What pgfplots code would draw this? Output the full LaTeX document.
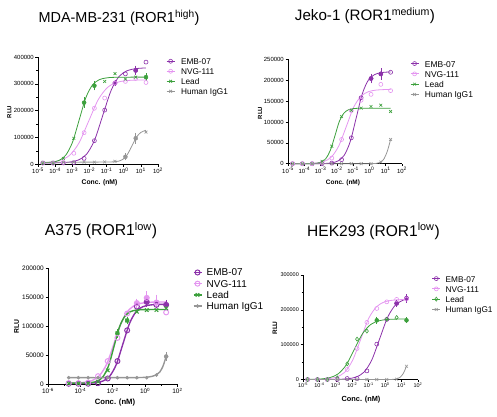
\documentclass[border=0pt]{standalone}
\usepackage{pgfplots}
\pgfplotsset{compat=1.18}
\usepackage{fontspec}
\setmainfont{Liberation Sans}
\definecolor{cEMB}{RGB}{140,50,170}
\definecolor{cNVG}{RGB}{228,150,240}
\definecolor{cLead}{RGB}{60,160,60}
\definecolor{cIgG}{RGB}{150,150,150}
\pgfplotsset{
 panel/.style={
  scale only axis, axis lines*=left, axis line style={-, line width=0.8bp},
  tick align=outside, major tick length=2.5bp, minor tick length=1.5bp,
  tick style={line width=0.6bp, black},
  enlargelimits=false, clip=false, ymin=0, scaled y ticks=false, scaled x ticks=false,
  legend cell align=left,
  legend image code/.code={\draw[mark repeat=2,mark phase=2,##1,sharp plot] plot coordinates {(0bp,0bp)(4bp,0bp)(8bp,0bp)};},
 },
 pleg/.style n args={5}{legend style={draw=none, fill=none, at={(#1,#2)}, anchor=north west, inner sep=0pt, row sep=0pt, column sep=#3,
   font=\fontsize{#5}{#5}\selectfont, nodes={inner sep=0pt, minimum height=#4, anchor=west, text height=0.7em, text depth=0pt}}},
 tickfont/.style={xticklabel style={font=\fontsize{#1}{#1}\selectfont, inner sep=1bp}, yticklabel style={font=\fontsize{#1}{#1}\selectfont, inner sep=1.5bp}},
 eb/.style={only marks, mark=none, forget plot, error bars/.cd, y dir=both, y explicit, error bar style={line width=#1}, error mark options={mark size=1.5bp, line width=#1}},
}
\begin{document}
\begin{tikzpicture}
\useasboundingbox (0,0) rectangle (497bp,-417bp);
% ---------------- Panel 1 ----------------
\begin{axis}[panel, tickfont=6, at={(38bp,-164.3bp)}, anchor=south west, width=120bp, height=107.3bp,
  xmin=-5, xmax=2, ymax=400000,
  xtick={-5,-4,-3,-2,-1,0,1,2},
  xticklabels={10\textsuperscript{-5},10\textsuperscript{-4},10\textsuperscript{-3},10\textsuperscript{-2},10\textsuperscript{-1},10\textsuperscript{0},10\textsuperscript{1},10\textsuperscript{2}},
  ytick={0,100000,200000,300000,400000}, yticklabels={0,100000,200000,300000,400000},
  minor ytick={50000,150000,250000,350000},
  pleg={1.067}{1.009}{6bp}{10bp}{8.3}]
\addplot[cEMB, line width=0.8bp, smooth, no marks, forget plot] coordinates {(-4.72,5000)(-3.60,6100)(-3.13,8500)(-2.65,15900)(-2.17,37300)(-1.70,90300)(-1.22,182500)(-0.74,274700)(-0.27,327700)(0.21,349100)(0.69,356500)(1.16,358900)(1.30,359200)};
\addplot[cNVG, line width=0.8bp, smooth, no marks, forget plot] coordinates {(-4.72,6200)(-4.27,8100)(-3.72,14500)(-3.16,33200)(-2.61,79500)(-2.05,160000)(-1.49,240500)(-0.94,286800)(-0.38,305500)(0.17,311900)(0.73,314000)(1.30,314700)};
\addplot[cLead, line width=0.8bp, smooth, no marks, forget plot] coordinates {(-4.72,5700)(-4.16,8200)(-3.77,14800)(-3.38,34100)(-2.99,81900)(-2.60,165000)(-2.21,248100)(-1.82,295900)(-1.43,315200)(-1.04,321800)(-0.65,324000)(0,324800)(1.30,325000)};
\addplot[cIgG, line width=0.8bp, smooth, no marks, forget plot] coordinates {(-4.72,8000)(-3,8000)(-1.5,8200)(-0.56,9200)(-0.30,11700)(-0.04,19100)(0.22,37300)(0.48,69000)(0.74,100700)(1.00,118900)(1.30,126900)};
\addplot[cEMB, eb=0.6bp] coordinates {(-0.51,303000) +- (0,6000) (0.70,350000) +- (0,12000)};
\addplot[cLead, eb=0.6bp] coordinates {(-2.31,230000) +- (0,15000) (-1.71,293000) +- (0,12000) (1.30,325000) +- (0,8000)};
\addplot[cIgG, eb=0.6bp] coordinates {(0.10,28000) +- (0,8000) (0.70,97000) +- (0,15000)};
\addplot[cEMB, line width=0.8bp, only marks, mark=o, mark size=2bp, mark options={line width=0.6bp}] coordinates {(-4.72,5000)(-4.12,5000)(-3.52,5000)(-2.91,6000)(-2.31,22000)(-1.71,88000)(-1.11,202000)(-0.51,303000)(0.10,337000)(0.70,350000)(1.30,381000)};
\addlegendentry{EMB-07}
\addplot[cNVG, line width=0.8bp, only marks, mark=o, mark size=2bp, mark options={line width=0.6bp}] coordinates {(-4.72,4000)(-4.12,4000)(-3.52,7000)(-2.91,41000)(-2.31,118000)(-1.71,209000)(-1.11,247000)(-0.51,303000)(0.10,309000)(0.70,320000)(1.30,305000)};
\addlegendentry{NVG-111}
\addplot[cLead, line width=0.8bp, only marks, mark=x, mark size=2bp, mark options={line width=0.6bp}] coordinates {(-4.72,4000)(-4.12,4000)(-3.52,22000)(-2.91,97000)(-2.31,230000)(-1.71,293000)(-1.11,309000)(-0.51,338000)(0.10,318000)(0.70,325000)(1.30,325000)};
\addlegendentry{Lead}
\addplot[cIgG, line width=0.8bp, only marks, mark=x, mark size=2bp, mark options={line width=0.6bp}] coordinates {(-4.72,7000)(-4.12,7000)(-3.52,7000)(-2.91,8000)(-2.31,8000)(-1.71,8000)(-1.11,9000)(-0.51,11000)(0.10,28000)(0.70,97000)(1.30,120000)};
\addlegendentry{Human IgG1}
\end{axis}
% ---------------- Panel 2 ----------------
\begin{axis}[panel, tickfont=6, at={(288bp,-163.7bp)}, anchor=south west, width=114bp, height=104.4bp,
  xmin=-5, xmax=2, ymax=250000,
  xtick={-5,-4,-3,-2,-1,0,1,2},
  xticklabels={10\textsuperscript{-5},10\textsuperscript{-4},10\textsuperscript{-3},10\textsuperscript{-2},10\textsuperscript{-1},10\textsuperscript{0},10\textsuperscript{1},10\textsuperscript{2}},
  ytick={0,50000,100000,150000,200000,250000}, yticklabels={0,50000,100000,150000,200000,250000},
  pleg={1.070}{1.0105}{6bp}{10.3bp}{8.5}]
\addplot[cEMB, line width=0.8bp, smooth, no marks, forget plot] coordinates {(-4.72,0)(-3.40,100)(-2.66,700)(-2.29,2200)(-1.92,6800)(-1.55,20000)(-1.18,52900)(-0.81,110000)(-0.44,167100)(-0.07,200000)(0.31,213200)(0.68,217800)(1.05,219300)(1.30,219700)};
\addplot[cNVG, line width=0.8bp, smooth, no marks, forget plot] coordinates {(-4.72,0)(-4.2,200)(-3.69,600)(-3.24,1800)(-2.78,5500)(-2.33,16200)(-1.88,42800)(-1.42,89000)(-0.97,135200)(-0.51,161800)(-0.06,172500)(0.40,176200)(0.85,177400)(1.30,177800)};
\addplot[cLead, line width=0.8bp, smooth, no marks, forget plot] coordinates {(-4.72,0)(-3.95,100)(-3.51,400)(-3.23,1300)(-2.95,4100)(-2.68,12100)(-2.40,32000)(-2.12,66500)(-1.85,101000)(-1.57,120900)(-1.30,128900)(-1.02,131700)(-0.74,132600)(0,133000)(1.30,133000)};
\addplot[cIgG, line width=0.8bp, smooth, no marks, forget plot] coordinates {(-4.72,0)(-1,0)(0,100)(0.4,700)(0.7,4000)(0.9,12000)(1.1,30000)(1.30,58000)};
\addplot[cEMB, eb=0.6bp] coordinates {(0.10,204000) +- (0,8000) (0.70,215000) +- (0,10000)};
\addplot[cEMB, line width=0.8bp, only marks, mark=o, mark size=2bp, mark options={line width=0.6bp}] coordinates {(-4.72,0)(-4.12,0)(-3.52,0)(-2.91,0)(-2.31,1500)(-1.71,9600)(-1.11,62000)(-0.51,158000)(0.10,204000)(0.70,215000)(1.30,219000)};
\addlegendentry{EMB-07}
\addplot[cNVG, line width=0.8bp, only marks, mark=o, mark size=2bp, mark options={line width=0.6bp}] coordinates {(-4.72,0)(-4.12,0)(-3.52,0)(-2.91,2400)(-2.31,13500)(-1.71,58000)(-1.11,127000)(-0.51,152000)(0.10,166000)(0.70,190000)(1.30,175000)};
\addlegendentry{NVG-111}
\addplot[cLead, line width=0.8bp, only marks, mark=x, mark size=2bp, mark options={line width=0.6bp}] coordinates {(-4.72,0)(-4.12,0)(-3.52,0)(-2.91,5600)(-2.31,42000)(-1.71,113000)(-1.11,128000)(-0.51,133000)(0.10,137000)(0.70,140000)(1.30,125000)};
\addlegendentry{Lead}
\addplot[cIgG, line width=0.8bp, only marks, mark=x, mark size=2bp, mark options={line width=0.6bp}] coordinates {(-4.72,0)(-4.12,0)(-3.52,0)(-2.91,0)(-2.31,0)(-1.71,0)(-1.11,0)(-0.51,0)(0.10,0)(0.70,4000)(1.30,58000)};
\addlegendentry{Human IgG1}
\end{axis}
% ---------------- Panel 3 ----------------
\begin{axis}[panel, tickfont=6.5, at={(48bp,-384.3bp)}, anchor=south west, width=129.5bp, height=116bp,
  xmin=-6, xmax=2, ymax=200000,
  xtick={-6,-4,-2,0,2}, minor xtick={-5,-3,-1,1},
  xticklabels={10\textsuperscript{-6},10\textsuperscript{-4},10\textsuperscript{-2},10\textsuperscript{0},10\textsuperscript{2}},
  ytick={0,50000,100000,150000,200000}, yticklabels={0,50000,100000,150000,200000},
  pleg={1.117}{1.014}{4.5bp}{11.2bp}{10}]
\addplot[cEMB, line width=1.4bp, smooth, no marks, forget plot] coordinates {(-4.72,1500)(-3.90,1700)(-3.42,1900)(-3.01,2900)(-2.60,5700)(-2.19,13900)(-1.78,34300)(-1.37,69800)(-0.96,105200)(-0.55,125600)(-0.14,133800)(0.27,136600)(0.68,137600)(1.30,137900)};
\addplot[cNVG, line width=1.4bp, smooth, no marks, forget plot] coordinates {(-4.72,2100)(-4.22,2400)(-3.75,3400)(-3.29,6300)(-2.83,14700)(-2.36,35600)(-1.90,72000)(-1.44,108400)(-0.97,129300)(-0.51,137700)(-0.05,140600)(0.42,141600)(0.88,141900)(1.30,142000)};
\addplot[cLead, line width=1.4bp, smooth, no marks, forget plot] coordinates {(-4.72,2000)(-4.0,2100)(-3.59,2400)(-3.25,3300)(-2.92,5900)(-2.59,13500)(-2.25,32500)(-1.92,65500)(-1.59,98500)(-1.25,117500)(-0.92,125100)(-0.59,127700)(-0.25,128600)(0.5,128950)(1.30,129000)};
\addplot[cIgG, line width=1.4bp, smooth, no marks, forget plot] coordinates {(-4.72,11400)(-2,11400)(-0.5,11600)(0,12000)(0.4,13500)(0.7,16500)(0.9,21000)(1.1,31000)(1.30,48000)};
\addplot[cEMB, eb=1bp] coordinates {(0.10,142000) +- (0,6000) (1.30,137000) +- (0,6000)};
\addplot[cNVG, eb=1bp] coordinates {(-0.51,140000) +- (0,5000) (0.10,149000) +- (0,9000) (0.70,141000) +- (0,11000)};
\addplot[cLead, eb=1bp] coordinates {(-1.71,88000) +- (0,5000) (-1.11,110000) +- (0,4000)};
\addplot[cIgG, eb=1bp] coordinates {(1.30,48000) +- (0,5000)};
\addplot[cEMB, line width=1.4bp, only marks, mark=o, mark size=2.5bp, mark options={line width=1bp}] coordinates {(-4.72,1000)(-4.12,1000)(-3.52,1000)(-2.91,2000)(-2.31,10000)(-1.71,40000)(-1.11,93000)(-0.51,134000)(0.10,142000)(0.70,137000)(1.30,137000)};
\addlegendentry{EMB-07}
\addplot[cNVG, line width=1.4bp, only marks, mark=o, mark size=2.5bp, mark options={line width=1bp}] coordinates {(-4.72,2000)(-4.12,2000)(-3.52,3000)(-2.91,14000)(-2.31,40000)(-1.71,80000)(-1.11,122000)(-0.51,140000)(0.10,149000)(0.70,141000)(1.30,124000)};
\addlegendentry{NVG-111}
\addplot[cLead, line width=1.4bp, only marks, mark=x, mark size=2.5bp, mark options={line width=1bp}] coordinates {(-4.72,1500)(-4.12,1500)(-3.52,1500)(-2.91,4500)(-2.31,24000)(-1.71,88000)(-1.11,110000)(-0.51,125000)(0.10,128000)(0.70,128000)(1.30,131000)};
\addlegendentry{Lead}
\addplot[cIgG, line width=1.4bp, only marks, mark=*, mark size=1.5bp, mark options={line width=0.6bp}] coordinates {(-4.72,11400)(-4.12,11400)(-3.52,11400)(-2.91,11400)(-2.31,11400)(-1.71,11400)(-1.11,11400)(-0.51,11400)(0.10,11400)(0.70,16000)(1.30,48000)};
\addlegendentry{Human IgG1}
\end{axis}
% ---------------- Panel 4 ----------------
\begin{axis}[panel, tickfont=5.5, at={(303bp,-379.5bp)}, anchor=south west, width=115bp, height=104.5bp,
  xmin=-5, xmax=2, ymax=300000,
  xtick={-5,-4,-3,-2,-1,0,1,2},
  xticklabels={10\textsuperscript{-5},10\textsuperscript{-4},10\textsuperscript{-3},10\textsuperscript{-2},10\textsuperscript{-1},10\textsuperscript{0},10\textsuperscript{1},10\textsuperscript{2}},
  ytick={0,100000,200000,300000}, yticklabels={0,100000,200000,300000},
  minor ytick={50000,150000,250000},
  pleg={1.119}{1.017}{5bp}{10.3bp}{8.3}]
\addplot[cEMB, line width=0.8bp, smooth, no marks, forget plot] coordinates {(-4.72,0)(-3.50,100)(-2.71,800)(-2.24,2300)(-1.76,7200)(-1.28,21400)(-0.81,56500)(-0.33,117500)(0.15,178500)(0.62,213600)(1.10,227800)(1.30,230500)};
\addplot[cNVG, line width=0.8bp, smooth, no marks, forget plot] coordinates {(-4.72,100)(-3.92,700)(-3.43,2300)(-2.95,7100)(-2.46,20900)(-1.98,55300)(-1.49,115000)(-1.01,174700)(-0.52,209100)(-0.03,222900)(0.45,227700)(0.94,229300)(1.30,229700)};
\addplot[cLead, line width=0.8bp, smooth, no marks, forget plot] coordinates {(-4.72,250)(-4.37,600)(-3.87,1700)(-3.37,5300)(-2.87,15800)(-2.37,41800)(-1.87,87000)(-1.37,132200)(-0.87,158200)(-0.37,168700)(0.13,172300)(0.63,173400)(1.30,173900)};
\addplot[cIgG, line width=0.8bp, smooth, no marks, forget plot] coordinates {(-4.72,0)(-1,0)(0,0)(0.5,400)(0.7,1500)(0.9,6000)(1.1,17000)(1.30,38000)};
\addplot[cEMB, eb=0.6bp] coordinates {(0.70,218600) +- (0,6000) (1.30,233000) +- (0,8000)};
\addplot[cLead, eb=0.6bp] coordinates {(-0.51,170000) +- (0,6000) (1.30,170000) +- (0,4000)};
\addplot[cEMB, line width=0.8bp, only marks, mark=o, mark size=2bp, mark options={line width=0.6bp}] coordinates {(-4.72,0)(-4.12,0)(-3.52,0)(-2.91,0)(-2.31,2900)(-1.71,2900)(-1.11,24700)(-0.51,101500)(0.10,172500)(0.70,218600)(1.30,233000)};
\addlegendentry{EMB-07}
\addplot[cNVG, line width=0.8bp, only marks, mark=o, mark size=2bp, mark options={line width=0.6bp}] coordinates {(-4.72,0)(-4.12,0)(-3.52,0)(-2.91,2000)(-2.31,28800)(-1.71,89000)(-1.11,164000)(-0.51,204000)(0.10,223000)(0.70,230000)(1.30,231000)};
\addlegendentry{NVG-111}
\addplot[cLead, line width=0.8bp, only marks, mark=diamond, mark size=2bp, mark options={line width=0.6bp}] coordinates {(-4.72,0)(-4.12,0)(-3.52,0)(-2.91,4600)(-2.31,45000)(-1.71,116000)(-1.11,139000)(-0.51,170000)(0.10,173000)(0.70,178000)(1.30,170000)};
\addlegendentry{Lead}
\addplot[cIgG, line width=0.8bp, only marks, mark=x, mark size=2bp, mark options={line width=0.6bp}] coordinates {(-4.72,0)(-4.12,0)(-3.52,0)(-2.91,0)(-2.31,0)(-1.71,0)(-1.11,0)(-0.51,0)(0.10,0)(0.70,1000)(1.30,38000)};
\addlegendentry{Human IgG1}
\end{axis}
% ---------------- Titles and axis labels ----------------
\node[anchor=base, font=\fontsize{14.5}{15}\selectfont, inner sep=0pt] at (119bp,-22.7bp) {MDA-MB-231 (ROR1\textsuperscript{high})};
\node[anchor=base, font=\fontsize{15.2}{15}\selectfont, inner sep=0pt] at (365bp,-20.7bp) {Jeko-1 (ROR1\textsuperscript{medium})};
\node[anchor=base, font=\fontsize{15.8}{16}\selectfont, inner sep=0pt] at (101bp,-235.7bp) {A375 (ROR1\textsuperscript{low})};
\node[anchor=base, font=\fontsize{15.6}{16}\selectfont, inner sep=0pt] at (373.5bp,-236bp) {HEK293 (ROR1\textsuperscript{low})};
\node[rotate=90, font=\bfseries\fontsize{6}{6}\selectfont, inner sep=0pt] at (9.3bp,-112bp) {RLU};
\node[rotate=90, font=\bfseries\fontsize{6}{6}\selectfont, inner sep=0pt] at (260bp,-113bp) {RLU};
\node[rotate=90, font=\bfseries\fontsize{6.8}{7}\selectfont, inner sep=0pt] at (16.7bp,-326.7bp) {RLU};
\node[rotate=90, font=\bfseries\fontsize{6.5}{7}\selectfont, inner sep=0pt] at (275bp,-328bp) {RLU};
\node[font=\bfseries\fontsize{6.8}{7}\selectfont, inner sep=0pt] at (99.5bp,-183bp) {Conc. (nM)};
\node[font=\bfseries\fontsize{6.5}{7}\selectfont, inner sep=0pt] at (343bp,-182.7bp) {Conc. (nM)};
\node[font=\bfseries\fontsize{7.7}{8}\selectfont, inner sep=0pt] at (115bp,-402.7bp) {Conc. (nM)};
\node[font=\bfseries\fontsize{7.4}{8}\selectfont, inner sep=0pt] at (361bp,-400bp) {Conc. (nM)};
\end{tikzpicture}
\end{document}
